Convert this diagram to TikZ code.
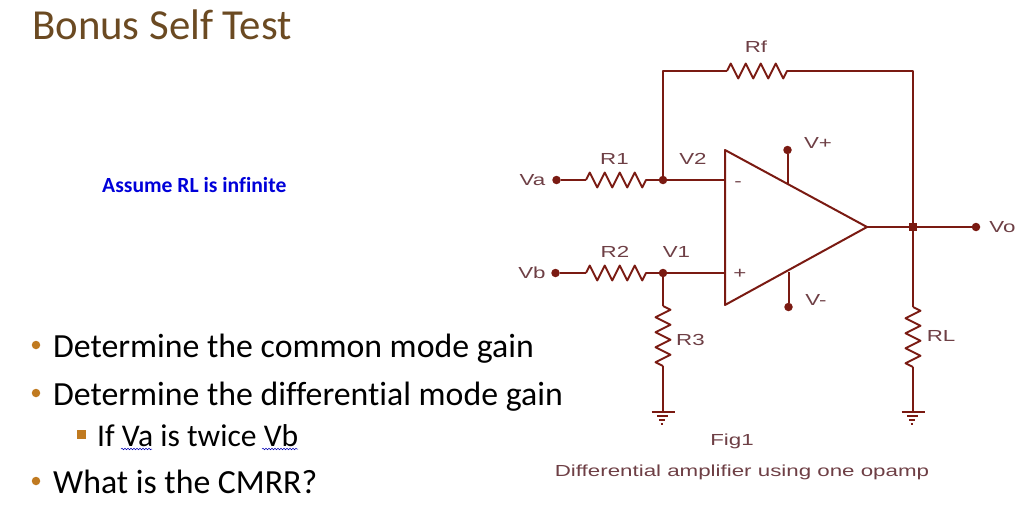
\documentclass[tikz,border=0pt]{standalone}
\usepackage{fontspec}
\setmainfont[Ligatures={NoCommon}]{Carlito}
\newfontfamily\lab{Liberation Sans}
\usetikzlibrary{decorations.pathmorphing}
\definecolor{wirec}{HTML}{7A1A12}
\definecolor{labc}{HTML}{6E3F45}
\definecolor{titlec}{HTML}{6B4A22}
\definecolor{bulc}{HTML}{C07A20}
\newcommand{\wlab}[1]{\scalebox{1.395}[1]{#1}}
\tikzset{
 wire/.style={draw=wirec,line width=2pt,line join=round},
 res/.style={wire,line width=1.9pt,decoration={zigzag,segment length=15pt,amplitude=7.5pt},decorate},
 dotn/.style={circle,fill=wirec,inner sep=0pt,minimum size=8.5pt},
 sqn/.style={rectangle,fill=wirec,inner sep=0pt,minimum size=8pt},
 lbl/.style={anchor=base,inner sep=0pt,text=labc,font=\lab\fontsize{16}{16}\selectfont},
 body/.style={anchor=base west,inner sep=0pt,text=black,font=\fontsize{33.8}{34}\selectfont},
 bul/.style={circle,fill=bulc,inner sep=0pt,minimum size=8.5pt},
 squig/.style={draw=blue!70!black,line width=.5pt,decoration={snake,segment length=3pt,amplitude=.8pt},decorate}
}
\begin{document}
\begin{tikzpicture}[x=1pt,y=-1pt]
\useasboundingbox (0,0) rectangle (1024,532);
% text
\node[anchor=base west,inner sep=0pt,text=titlec,font=\fontsize{42.8}{43}\selectfont] (title) at (32,40) {Bonus Self Test};
\node[anchor=base west,inner sep=0pt,text=blue!85!black,font=\bfseries\fontsize{21.6}{22}\selectfont] (assume) at (102,192) {Assume RL is infinite};
\node[bul] (b1) at (36,345) {};
\node[body] (t1) at (53,357) {Determine the common mode gain};
\node[bul] (b2) at (36,393) {};
\node[body] (t2) at (53,405) {Determine the differential mode gain};
\node[rectangle,fill=bulc,inner sep=0pt,minimum size=9pt] (b3) at (81,434.5) {};
\node[anchor=base west,inner sep=0pt,font=\fontsize{31.6}{32}\selectfont] (t3) at (97,446) {If Va is twice Vb};
\node[bul] (b4) at (36,481) {};
\node[body] (t4) at (53,493) {What is the CMRR?};
\coordinate (sq1a) at (121,449); \coordinate (sq1b) at (152,449);
\coordinate (sq2a) at (262,449); \coordinate (sq2b) at (298,449);
\draw[squig] (sq1a) -- (sq1b);
\draw[squig] (sq2a) -- (sq2b);
% circuit nodes
\node[dotn] (va) at (556.5,180) {};
\node[dotn] (vb) at (555.5,273) {};
\node[dotn] (j2) at (663,180) {};
\node[dotn] (j1) at (663,273) {};
\node[sqn] (jo) at (913,227) {};
\node[dotn] (vo) at (976,227) {};
\node[dotn] (vp) at (787.5,150) {};
\node[dotn] (vm) at (788.5,307) {};
\coordinate (oa) at (725,150);
\coordinate (ob) at (725,305);
\coordinate (oc) at (867,227);
\coordinate (cn) at (725,180);
\coordinate (cp) at (725,273);
\coordinate (cvp) at (787.5,184);
\coordinate (cvm) at (788.5,272);
\coordinate (r1a) at (586,180); \coordinate (r1b) at (648,180);
\coordinate (r2a) at (586,273); \coordinate (r2b) at (647,273);
\coordinate (rfa) at (727,71); \coordinate (rfb) at (789,71);
\coordinate (r3a) at (663,306); \coordinate (r3b) at (663,366);
\coordinate (rla) at (913,307); \coordinate (rlb) at (913,367);
\coordinate (g3) at (663,412); \coordinate (gl) at (913,412);
\coordinate (tl) at (663,71); \coordinate (tr) at (913,71);
% opamp
\draw[wire] (oa) -- (oc) -- (ob) -- cycle;
\draw[wire] (va) -- (r1a);
\draw[res] (r1a) -- (r1b);
\draw[wire] (r1b) -- (j2) -- (cn);
\draw[wire] (vb) -- (r2a);
\draw[res] (r2a) -- (r2b);
\draw[wire] (r2b) -- (j1) -- (cp);
\draw[wire] (j2) -- (tl) -- (rfa);
\draw[res] (rfa) -- (rfb);
\draw[wire] (rfb) -- (tr) -- (jo);
\draw[wire] (oc) -- (jo) -- (vo);
\draw[wire] (jo) -- (rla);
\draw[res] (rla) -- (rlb);
\draw[wire] (rlb) -- (gl);
\draw[wire] (j1) -- (r3a);
\draw[res] (r3a) -- (r3b);
\draw[wire] (r3b) -- (g3);
\draw[wire] (vp) -- (cvp);
\draw[wire] (vm) -- (cvm);
% grounds
\foreach \g in {g3,gl}{
 \draw[wire,line width=2.4pt] ([xshift=-11.5pt]\g) -- ([xshift=11.5pt]\g);
 \draw[wire,line width=1.4pt] ([xshift=-6pt,yshift=-4pt]\g) -- ([xshift=5pt,yshift=-4pt]\g);
 \draw[wire,line width=1.4pt] ([xshift=-4pt,yshift=-8pt]\g) -- ([xshift=2pt,yshift=-8pt]\g);
 \draw[wire,line width=1.4pt] ([xshift=-2.5pt,yshift=-12pt]\g) -- ([xshift=0pt,yshift=-12pt]\g);
}
% labels
\node[lbl] (lrf) at (756,53) {\wlab{Rf}};
\node[lbl] (lr1) at (614.5,164) {\wlab{R1}};
\node[lbl] (lv2) at (693,164) {\wlab{V2}};
\node[lbl] (lva) at (532.5,185) {\wlab{Va}};
\node[lbl] (lr2) at (615,257) {\wlab{R2}};
\node[lbl] (lv1) at (676.5,257) {\wlab{V1}};
\node[lbl] (lvb) at (532,278) {\wlab{Vb}};
\node[lbl] (lr3) at (690.5,345) {\wlab{R3}};
\node[lbl] (lrl) at (941,341) {\wlab{RL}};
\node[lbl] (lvo) at (1002.5,232) {\wlab{Vo}};
\node[lbl] (lvp) at (818,148) {\wlab{V+}};
\node[lbl] (lvm) at (816,305) {\wlab{V-}};
\node[lbl] (lm) at (738,186) {\wlab{-}};
\node[lbl] (lpl) at (740,278) {\wlab{+}};
\node[lbl] (lfig) at (732,445) {\wlab{Fig1}};
\node[lbl] (lcap) at (742,476) {\wlab{Differential amplifier using one opamp}};
\end{tikzpicture}
\end{document}
